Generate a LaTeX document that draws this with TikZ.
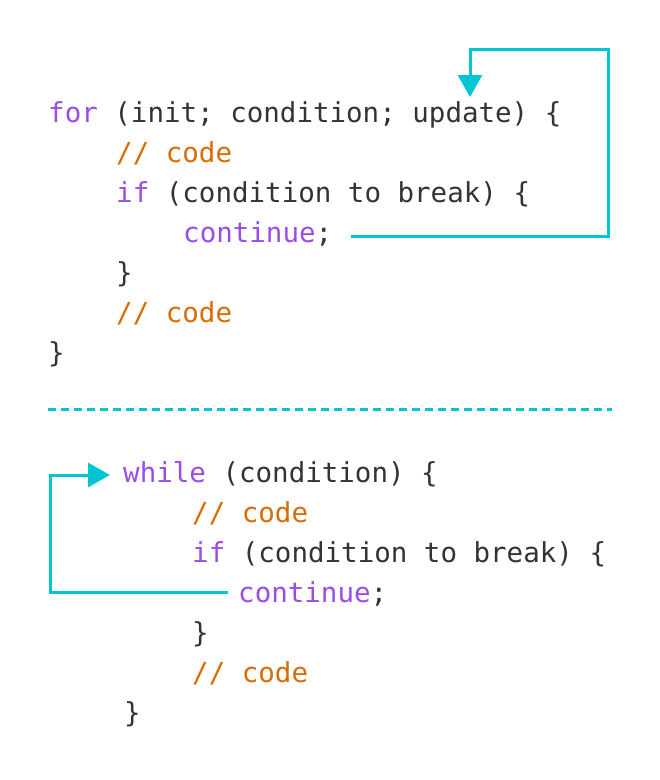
\documentclass[tikz,border=0pt]{standalone}
\usepackage{fontspec}
\setmonofont{DejaVu Sans Mono}
\usetikzlibrary{arrows.meta}
\definecolor{kw}{HTML}{9A4CE8}
\definecolor{cm}{HTML}{D96C00}
\definecolor{tx}{HTML}{333333}
\definecolor{ar}{HTML}{00C5D3}
\begin{document}
\begin{tikzpicture}[x=1pt,y=-1pt,
  code/.style={anchor=base west,inner sep=0pt,font=\ttfamily\fontsize{27.5}{30}\selectfont,text=tx},
  flow/.style={draw=ar,line width=3pt,-{Triangle[length=22pt,width=24pt]}}]
\useasboundingbox (0,0) rectangle (660,780);
\node[code] (a1) at (48,122) {\textcolor{kw}{for} (init; condition; update) \{};
\node[code] (a2) at (116,162) {\textcolor{cm}{// code}};
\node[code] (a3) at (116,202) {\textcolor{kw}{if} (condition to break) \{};
\node[code] (a4) at (183,242) {\textcolor{kw}{continue};};
\node[code] (a5) at (116,282) {\}};
\node[code] (a6) at (116,322) {\textcolor{cm}{// code}};
\node[code] (a7) at (48,362) {\}};
\draw[ar,line width=3pt,dashed,dash pattern=on 8pt off 5pt] (48,409) -- (612,409);
\node[code] (b1) at (123,482) {\textcolor{kw}{while} (condition) \{};
\node[code] (b2) at (192,522) {\textcolor{cm}{// code}};
\node[code] (b3) at (192,562) {\textcolor{kw}{if} (condition to break) \{};
\node[code] (b4) at (238,602) {\textcolor{kw}{continue};};
\node[code] (b5) at (192,642) {\}};
\node[code] (b6) at (192,682) {\textcolor{cm}{// code}};
\node[code] (b7) at (124,722) {\}};
\coordinate (s1) at (351,236);
\coordinate (t1) at (470,97);
\draw[flow] (s1) -- (608,236) -- (608,49) -- (470,49) -- (t1);
\coordinate (s2) at (228,592);
\coordinate (t2) at (110,475);
\draw[flow] (s2) -- (50,592) -- (50,475) -- (t2);
\end{tikzpicture}
\end{document}
